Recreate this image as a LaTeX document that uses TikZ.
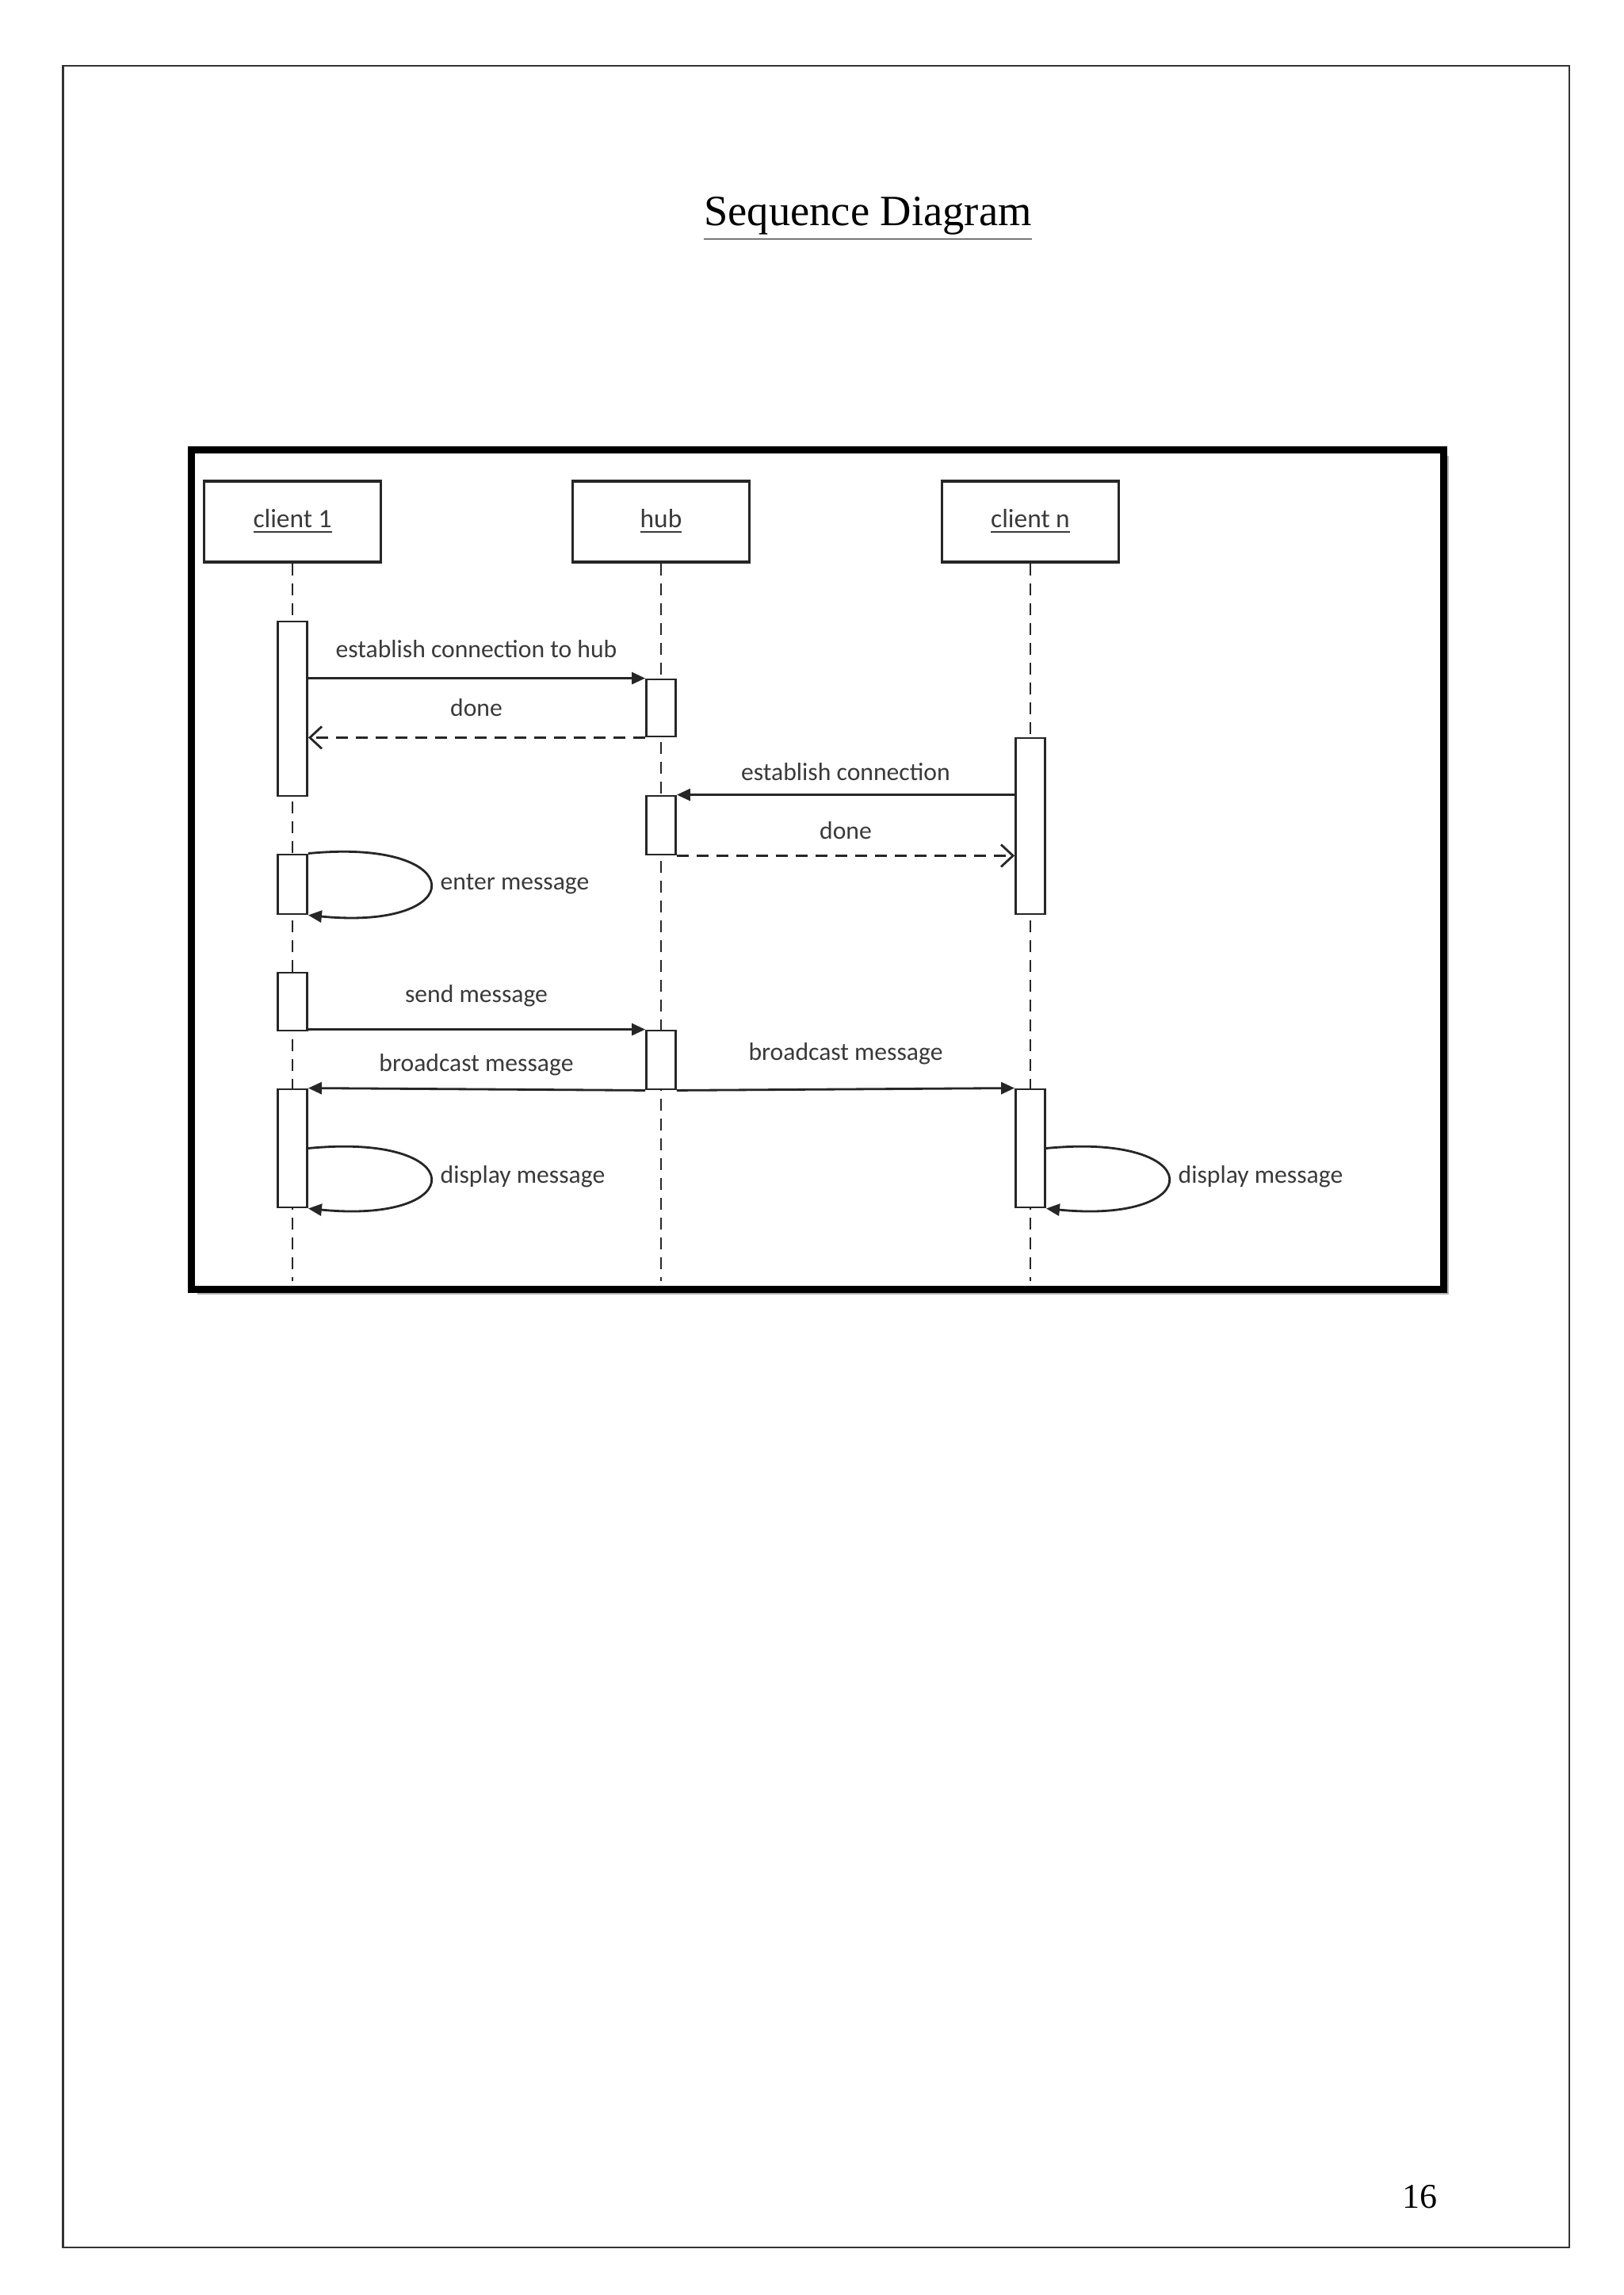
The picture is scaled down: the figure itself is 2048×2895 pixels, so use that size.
\documentclass[tikz,border=0pt]{standalone}
\usepackage{fontspec}
\setmainfont{Liberation Serif}
\newfontfamily\diag{Carlito}
\usetikzlibrary{arrows.meta}
\definecolor{txt}{HTML}{3A3A3A}
\begin{document}
\begin{tikzpicture}[x=0.01cm,y=-0.01cm,
  head/.style={draw=black!85,line width=0.9pt,minimum width=2.23cm,minimum height=1.02cm,inner sep=0pt,font=\diag\fontsize{9.5}{11}\selectfont,text=txt},
  act/.style={draw=black!85,fill=white,line width=0.8pt,minimum width=0.37cm,inner sep=0pt},
  life/.style={black!85,line width=0.8pt,dash pattern=on 0.15cm off 0.1cm},
  msg/.style={black!85,line width=0.8pt,-{Triangle[length=0.17cm,width=0.15cm]}},
  ret/.style={black!85,line width=0.8pt,dash pattern=on 0.15cm off 0.1cm,-{Straight Barb[length=0.15cm,width=0.28cm]}},
  lbl/.style={font=\diag\fontsize{9}{11}\selectfont,text=txt,inner sep=0pt}]
\useasboundingbox (0,0) rectangle (2048,2895);
\fill[white] (0,0) rectangle (2048,2895);
\node[draw=black!80,line width=0.6pt,minimum width=18.99cm,minimum height=27.5cm,inner sep=0pt] (page) at (1029.5,1459) {};
\node[font=\fontsize{15.5}{18}\selectfont] (title) at (1095,276) {\underline{Sequence Diagram}};
\node[font=\fontsize{12.5}{15}\selectfont] (pnum) at (1791,2771) {16};
% frame with shadow
\fill[black!30] (249,575) rectangle (1828,1633);
\node[draw=black,fill=white,line width=2.6pt,minimum width=15.79cm,minimum height=10.58cm,inner sep=0pt] (frame) at (1031.5,1097) {};
% headers
\node[head] (L1) at (369,658) {\underline{client 1}};
\node[head] (L2) at (834,658) {\underline{hub}};
\node[head] (L3) at (1300,658) {\underline{client n}};
\coordinate (e1) at (369,1616);
\coordinate (e2) at (834,1616);
\coordinate (e3) at (1300,1616);
\draw[life] (L1.south) -- (e1);
\draw[life] (L2.south) -- (e2);
\draw[life] (L3.south) -- (e3);
% activations
\node[act,minimum height=2.2cm] (a1) at (369,894) {};
\node[act,minimum height=0.72cm] (h1) at (834,893) {};
\node[act,minimum height=2.22cm] (c1) at (1300,1042) {};
\node[act,minimum height=0.74cm] (h2) at (834,1041) {};
\node[act,minimum height=0.75cm] (a2) at (369,1115.5) {};
\node[act,minimum height=0.73cm] (a3) at (369,1263.5) {};
\node[act,minimum height=0.74cm] (h3) at (834,1337) {};
\node[act,minimum height=1.49cm] (a4) at (369,1448.5) {};
\node[act,minimum height=1.49cm] (c2) at (1300,1448.5) {};
% messages
\draw[msg] (h1.north west -| a1.east) -- (h1.north west);
\node[lbl] (t1) at (601,819) {establish connection to hub};
\draw[ret] (h1.south west) -- (h1.south west -| a1.east);
\node[lbl] (t2) at (601,893) {done};
\draw[msg] (h2.north east -| c1.west) -- (h2.north east);
\node[lbl] (t3) at (1067,974) {establish connection};
\draw[ret] (h2.south east) -- (h2.south east -| c1.west);
\node[lbl] (t4) at (1067,1048) {done};
\draw[msg] (a2.north east) .. controls +(205,-20) and +(205,20) .. (a2.south east);
\node[lbl,anchor=west] (t5) at (555,1115) {enter message};
\draw[msg] (h3.north west -| a3.east) -- (h3.north west);
\node[lbl] (t6) at (601,1256) {send message};
\draw[msg] (h3.south west) -- (a4.north east);
\node[lbl] (t7) at (601,1343) {broadcast message};
\draw[msg] (h3.south east) -- (c2.north west);
\node[lbl] (t8) at (1067,1329) {broadcast message};
\draw[msg] (a4.east) .. controls +(205,-20) and +(205,20) .. (a4.south east);
\node[lbl,anchor=west] (t9) at (555,1484) {display message};
\draw[msg] (c2.east) .. controls +(205,-20) and +(205,20) .. (c2.south east);
\node[lbl,anchor=west] (t10) at (1486,1484) {display message};
\end{tikzpicture}
\end{document}
